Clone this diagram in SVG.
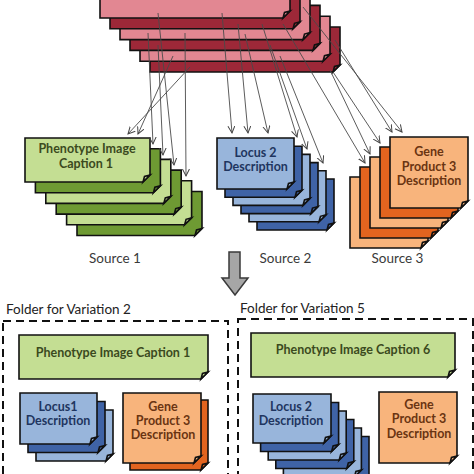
<svg xmlns="http://www.w3.org/2000/svg" xmlns:xlink="http://www.w3.org/1999/xlink" width="474" height="474" viewBox="0 0 474 474">
<style>
.card use{stroke:#111;stroke-width:1.6;stroke-linejoin:miter}
.lr{fill:#e28792}.dr{fill:#9d2838}
.lg{fill:#c4de93}.dg{fill:#6e9a33}
.lb{fill:#98b5db}.db{fill:#3f63a6}
.lo{fill:#f8b47c}.do{fill:#e2641f}
.t{font-family:Lato,"Open Sans",sans-serif;font-weight:700;font-size:12.5px;text-anchor:middle}
.tg{fill:#3b4a1e}.tb{fill:#1f3560}.to{fill:#6a3412}
.src{font-family:Lato,"Open Sans",sans-serif;font-size:13.5px;fill:#3a3a3a;text-anchor:middle}
.fold{font-family:Lato,"Open Sans",sans-serif;font-size:13.5px;fill:#222}
.dash{fill:none;stroke:#111;stroke-width:2;stroke-dasharray:8 5}
.conn line{stroke:#4a4a4a;stroke-width:0.9;marker-end:url(#ah)}
</style>
<defs>
<marker id="ah" markerUnits="userSpaceOnUse" markerWidth="9" markerHeight="9" refX="7" refY="4" orient="auto">
<path d="M0,0.5 L7,4 L0,7.5" fill="none" stroke="#444" stroke-width="1"/>
</marker>
<path id="R" d="M0,0H190V38L183,45H0Z"/><path id="Rf" d="M183,45L190,38L184.5,39.5Z"/>
<path id="G" d="M0,0H125V37L118,44H0Z"/><path id="Gf" d="M118,44L125,37L119.5,38.5Z"/>
<path id="B" d="M0,0H77V44L70,51H0Z"/><path id="Bf" d="M70,51L77,44L71.5,45.5Z"/>
<path id="O" d="M0,0H78V64L71,71H0Z"/><path id="Of" d="M71,71L78,64L72.5,65.5Z"/>
<path id="P1" d="M0,0H189V37L182,44H0Z"/><path id="P1f" d="M182,44L189,37L183.5,38.5Z"/>
<path id="P2" d="M0,0H204V37L197,44H0Z"/><path id="P2f" d="M197,44L204,37L198.5,38.5Z"/>
<path id="B2" d="M0,0H78V42L71,49H0Z"/><path id="B2f" d="M71,49L78,42L72.5,43.5Z"/>
<path id="O2" d="M0,0H78V63L71,70H0Z"/><path id="O2f" d="M71,70L78,63L72.5,64.5Z"/>
</defs>

<g id="records" class="card">
<g transform="translate(150,27)"><use href="#R" class="dr"/><use href="#Rf" class="dr"/></g>
<g transform="translate(140,16.2)"><use href="#R" class="lr"/><use href="#Rf" class="lr"/></g>
<g transform="translate(130,5.4)"><use href="#R" class="dr"/><use href="#Rf" class="dr"/></g>
<g transform="translate(120,-5.4)"><use href="#R" class="lr"/><use href="#Rf" class="lr"/></g>
<g transform="translate(110,-16.2)"><use href="#R" class="dr"/><use href="#Rf" class="dr"/></g>
<g transform="translate(100,-27)"><use href="#R" class="lr"/><use href="#Rf" class="lr"/></g>
</g>

<g id="source1" class="card">
<g transform="translate(77,191.5)"><use href="#G" class="dg"/><use href="#Gf" class="dg"/></g>
<g transform="translate(66.6,180.8)"><use href="#G" class="lg"/><use href="#Gf" class="lg"/></g>
<g transform="translate(56.2,170.1)"><use href="#G" class="dg"/><use href="#Gf" class="dg"/></g>
<g transform="translate(45.8,159.4)"><use href="#G" class="lg"/><use href="#Gf" class="lg"/></g>
<g transform="translate(35.4,148.7)"><use href="#G" class="dg"/><use href="#Gf" class="dg"/></g>
<g transform="translate(25,138)"><use href="#G" class="lg"/><use href="#Gf" class="lg"/></g>
<text class="t tg" x="87" y="153">Phenotype Image</text>
<text class="t tg" x="86" y="168">Caption 1</text>
</g>

<g id="source2" class="card">
<g transform="translate(257,179)"><use href="#B" class="db"/><use href="#Bf" class="db"/></g>
<g transform="translate(249,170.8)"><use href="#B" class="lb"/><use href="#Bf" class="lb"/></g>
<g transform="translate(241,162.6)"><use href="#B" class="db"/><use href="#Bf" class="db"/></g>
<g transform="translate(233,154.4)"><use href="#B" class="lb"/><use href="#Bf" class="lb"/></g>
<g transform="translate(225,146.2)"><use href="#B" class="db"/><use href="#Bf" class="db"/></g>
<g transform="translate(217,138)"><use href="#B" class="lb"/><use href="#Bf" class="lb"/></g>
<text class="t tb" x="255.5" y="157">Locus 2</text>
<text class="t tb" x="255.5" y="171">Description</text>
</g>

<g id="source3" class="card">
<g transform="translate(350,177)"><use href="#O" class="lo"/><use href="#Of" class="lo"/></g>
<g transform="translate(360,167)"><use href="#O" class="do"/><use href="#Of" class="do"/></g>
<g transform="translate(370,157)"><use href="#O" class="lo"/><use href="#Of" class="lo"/></g>
<g transform="translate(380,147)"><use href="#O" class="do"/><use href="#Of" class="do"/></g>
<g transform="translate(390,137)"><use href="#O" class="lo"/><use href="#Of" class="lo"/></g>
<text class="t to" x="429" y="156">Gene</text>
<text class="t to" x="429" y="171">Product 3</text>
<text class="t to" x="429" y="185">Description</text>
</g>

<g id="connectors" class="conn">
<line x1="190" y1="67" x2="128" y2="134"/>
<line x1="173" y1="56" x2="138" y2="134"/>
<line x1="148" y1="33" x2="153" y2="144"/>
<line x1="158" y1="45" x2="163" y2="155"/>
<line x1="158" y1="13" x2="174" y2="165"/>
<line x1="185" y1="33" x2="186" y2="176"/>
<line x1="222" y1="13" x2="232" y2="133"/>
<line x1="238" y1="24" x2="248" y2="133"/>
<line x1="245" y1="34" x2="268" y2="133"/>
<line x1="262" y1="24" x2="297" y2="137"/>
<line x1="270" y1="45" x2="307" y2="149"/>
<line x1="280" y1="56" x2="323" y2="163"/>
<line x1="283" y1="24" x2="365" y2="163"/>
<line x1="330" y1="70" x2="370" y2="154"/>
<line x1="333" y1="72" x2="380" y2="143"/>
<line x1="335" y1="40" x2="392" y2="132"/>
<line x1="303" y1="7" x2="402" y2="132"/>
</g>

<g id="labels">
<text class="src" x="115" y="263">Source 1</text>
<text class="src" x="285.5" y="263">Source 2</text>
<text class="src" x="397.5" y="263">Source 3</text>
</g>

<g id="bigarrow">
<polygon points="229,252 240,252 240,278 248,278 235,295 222,278 229,278" fill="#a6a6a6" stroke="#3a3a3a" stroke-width="1.5"/>
</g>

<g id="folder2">
<text class="fold" x="6" y="314">Folder for Variation 2</text>
<rect class="dash" x="3" y="321" width="225" height="170"/>
<g class="card">
<g transform="translate(19,335)"><use href="#P1" class="lg"/><use href="#P1f" class="lg"/></g>
<g transform="translate(36,410)"><use href="#B" class="lb"/><use href="#Bf" class="lb"/></g>
<g transform="translate(28,401.5)"><use href="#B" class="db"/><use href="#Bf" class="db"/></g>
<g transform="translate(20,393)"><use href="#B" class="lb"/><use href="#Bf" class="lb"/></g>
<g transform="translate(130,400)"><use href="#O2" class="do"/><use href="#O2f" class="do"/></g>
<g transform="translate(123,393)"><use href="#O2" class="lo"/><use href="#O2f" class="lo"/></g>
</g>
<text class="t tg" x="113" y="357">Phenotype Image Caption 1</text>
<text class="t tb" x="58" y="411">Locus1</text>
<text class="t tb" x="58" y="425">Description</text>
<text class="t to" x="163" y="411">Gene</text>
<text class="t to" x="163" y="425">Product 3</text>
<text class="t to" x="163" y="439">Description</text>
</g>

<g id="folder5">
<text class="fold" x="240" y="313">Folder for Variation 5</text>
<rect class="dash" x="238" y="319" width="235" height="170"/>
<g class="card">
<g transform="translate(251,333)"><use href="#P2" class="lg"/><use href="#P2f" class="lg"/></g>
<g transform="translate(291,436.5)"><use href="#B2" class="db"/><use href="#B2f" class="db"/></g>
<g transform="translate(283.4,428)"><use href="#B2" class="lb"/><use href="#B2f" class="lb"/></g>
<g transform="translate(275.8,419.5)"><use href="#B2" class="db"/><use href="#B2f" class="db"/></g>
<g transform="translate(268.2,411)"><use href="#B2" class="lb"/><use href="#B2f" class="lb"/></g>
<g transform="translate(260.6,402.5)"><use href="#B2" class="db"/><use href="#B2f" class="db"/></g>
<g transform="translate(253,394)"><use href="#B2" class="lb"/><use href="#B2f" class="lb"/></g>
<g transform="translate(379,392)"><use href="#O" class="lo"/><use href="#Of" class="lo"/></g>
</g>
<text class="t tg" x="353" y="354">Phenotype Image Caption 6</text>
<text class="t tb" x="291" y="411">Locus 2</text>
<text class="t tb" x="291" y="425">Description</text>
<text class="t to" x="419" y="409">Gene</text>
<text class="t to" x="419" y="423">Product 3</text>
<text class="t to" x="419" y="438">Description</text>
</g>
</svg>
